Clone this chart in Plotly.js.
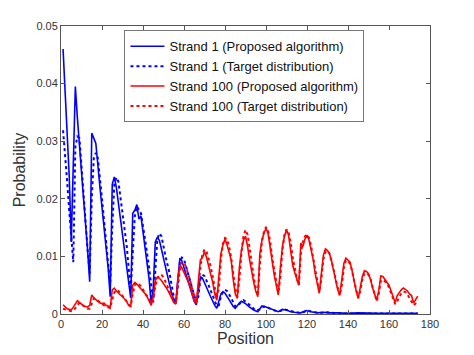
<!DOCTYPE html>
<html>
<head>
<meta charset="utf-8">
<script src="https://cdn.plot.ly/plotly-3.0.1.min.js"></script>
<style>html,body{margin:0;padding:0;background:#fff;}#chart{width:474px;height:355px;}</style>
</head>
<body>
<div id="chart"></div>
<script>
// Strand 1, proposed algorithm (solid blue)
var s1PropX = [1,2,3,4,5,6,7,8,9,11,13,14,15,16,17,19,21,23,24,25,26,27,29,31,33,34,35,36,37,38,39,41,43,44,45,46,47,48,50,52,54,55,56,57,58,59,61,63,65,66,67,68,69,71,73,75,76,77,78,79,80,82,84,85,86,87,88,90,92,94,96,97,98,100,102,104,106,107,108,110,112,114,117,119,120,122,125,128,131,135,140,145,150,155,160,165,170,174];
var s1PropY = [0.046,0.039,0.031,0.024,0.0125,0.026,0.0395,0.034,0.029,0.020,0.011,0.0056,0.0314,0.0305,0.0296,0.022,0.015,0.008,0.003,0.0225,0.0238,0.022,0.0165,0.011,0.006,0.0028,0.0175,0.018,0.019,0.0165,0.017,0.0115,0.006,0.0017,0.0045,0.0125,0.0133,0.0128,0.0095,0.0065,0.0035,0.0025,0.0018,0.006,0.0097,0.0092,0.0068,0.0045,0.0022,0.0016,0.004,0.0065,0.0062,0.0045,0.003,0.0015,0.001,0.0022,0.0035,0.0039,0.0036,0.0025,0.0013,0.001,0.0015,0.0019,0.0022,0.0018,0.0012,0.0007,0.0004,0.001,0.0014,0.0012,0.0009,0.0006,0.0004,0.0006,0.0008,0.0007,0.0004,0.0003,0.0002,0.0005,0.0006,0.0004,0.0002,0.0003,0.0002,0.0002,0.0001,0.0002,0.0001,0.0001,0.0001,0.0001,0.0001,0.0001];

// Strand 1, target distribution (dotted blue)
var s1TargX = [1,2,3,4,5,6,7,8,9,10,12,13,14,15,16,17,18,20,22,24,25,26,27,28,30,32,34,35,36,37,38,39,41,43,45,46,47,48,49,51,53,55,56,57,58,59,60,62,64,66,67,68,69,70,72,74,76,77,78,79,80,81,83,85,87,88,89,91,93,95,97,99,101,103,105,107,109,111,113,116,119,121,124,127,130,135,140,145,150,155,160,165,170,174];
var s1TargY = [0.0319,0.028,0.023,0.018,0.013,0.009,0.029,0.0308,0.0305,0.025,0.016,0.011,0.007,0.020,0.027,0.028,0.027,0.020,0.013,0.005,0.015,0.0225,0.0237,0.023,0.0175,0.012,0.004,0.011,0.017,0.0187,0.018,0.0175,0.013,0.008,0.002,0.007,0.013,0.014,0.0135,0.010,0.007,0.003,0.002,0.005,0.009,0.0098,0.0095,0.007,0.0045,0.002,0.003,0.006,0.0068,0.0066,0.005,0.0032,0.0014,0.0015,0.003,0.0038,0.0042,0.004,0.0028,0.0013,0.0017,0.0022,0.0024,0.0019,0.0012,0.0006,0.0008,0.0013,0.0011,0.0008,0.0005,0.0005,0.0008,0.0006,0.0004,0.0002,0.0004,0.0005,0.0003,0.0002,0.0003,0.0001,0.0001,0.0001,0.0001,0.0001,0.0001,0.0001,0.0001,0.0001];

// Strand 100, proposed algorithm (solid red), positions 1..174
var s100PropY = [0.0016,0.0012,0.0009,0.0008,0.0007,0.0012,0.0018,0.0023,0.002,0.0017,
0.0014,0.0013,0.0012,0.0015,0.0033,0.0028,0.0025,0.0022,0.0019,0.0018,
0.0019,0.0015,0.0013,0.0012,0.0042,0.0045,0.004,0.0036,0.0033,0.003,
0.0026,0.0022,0.0015,0.0013,0.005,0.0055,0.0052,0.0048,0.0044,0.004,
0.0035,0.003,0.0022,0.0015,0.003,0.0058,0.0064,0.0062,0.0058,0.0053,
0.0048,0.0042,0.0035,0.0028,0.002,0.0017,0.006,0.0085,0.008,0.0072,
0.0065,0.0056,0.0048,0.0035,0.0022,0.0019,0.006,0.0094,0.0098,0.0108,
0.0098,0.0085,0.0072,0.0055,0.0035,0.0024,0.0065,0.0105,0.012,0.013,
0.012,0.0105,0.0094,0.006,0.0035,0.0027,0.008,0.0111,0.0128,0.0135,
0.0118,0.0094,0.0073,0.0055,0.004,0.003,0.0105,0.0128,0.014,0.0149,
0.014,0.0115,0.0085,0.0068,0.005,0.0033,0.008,0.0117,0.0135,0.0146,
0.0137,0.0115,0.0085,0.0072,0.006,0.005,0.0123,0.0117,0.013,0.0137,
0.0128,0.0114,0.0095,0.007,0.0052,0.0036,0.007,0.0102,0.0113,0.011,
0.0104,0.0092,0.0075,0.0058,0.0042,0.0033,0.006,0.0088,0.0097,0.0094,
0.009,0.0075,0.0055,0.004,0.0027,0.0045,0.0065,0.0075,0.0074,0.007,
0.006,0.0045,0.0033,0.0024,0.004,0.0066,0.0065,0.006,0.0057,0.005,
0.004,0.003,0.002,0.0032,0.0038,0.0042,0.0045,0.0043,0.004,0.0035,
0.0032,0.0019,0.0025,0.0031];

// Strand 100, target distribution (dotted red), positions 1..174
var s100TargY = [0.0009,0.0008,0.0006,0.0005,0.0005,0.0006,0.001,0.0016,0.0019,0.0017,
0.0014,0.0011,0.0009,0.0009,0.002,0.0027,0.0026,0.0023,0.002,0.0017,
0.0015,0.0013,0.0011,0.001,0.0025,0.0037,0.0042,0.004,0.0036,0.0032,
0.0027,0.0022,0.0017,0.0013,0.0035,0.005,0.0054,0.0052,0.0048,0.0043,
0.0037,0.0031,0.0025,0.0019,0.0025,0.0048,0.0062,0.0067,0.0068,0.0064,
0.0056,0.0047,0.0038,0.003,0.0022,0.0018,0.0045,0.0078,0.009,0.0089,
0.0082,0.0071,0.0058,0.0043,0.003,0.0021,0.0042,0.0082,0.0104,0.0112,
0.0108,0.0097,0.0083,0.0065,0.0045,0.0027,0.0045,0.0095,0.0122,0.0132,
0.013,0.0117,0.0098,0.0072,0.0045,0.003,0.006,0.0105,0.0135,0.0146,
0.0138,0.0115,0.0088,0.0065,0.0045,0.0032,0.0085,0.0125,0.0143,0.0151,
0.0145,0.0127,0.0098,0.0075,0.0055,0.0036,0.0065,0.011,0.0138,0.0147,
0.0142,0.0125,0.0098,0.0078,0.0063,0.005,0.0105,0.0125,0.0135,0.0138,
0.0132,0.0118,0.0098,0.0075,0.0055,0.0038,0.006,0.0095,0.0108,0.011,
0.0105,0.0093,0.0077,0.006,0.0044,0.0032,0.005,0.0081,0.0093,0.0092,
0.0087,0.0075,0.0057,0.0041,0.0028,0.004,0.006,0.007,0.0071,0.0068,
0.006,0.0047,0.0033,0.0022,0.0035,0.0057,0.006,0.0057,0.0053,0.0046,
0.0037,0.0026,0.0017,0.0022,0.003,0.0036,0.0039,0.0038,0.0034,0.0028,
0.0021,0.0015,0.0018,0.0023];

var s100X = [];
for (var i = 1; i <= s100PropY.length; i++) s100X.push(i);

var seriesNames = ['Strand 1 (Proposed algorithm)','Strand 1 (Target distribution)','Strand 100 (Proposed algorithm)','Strand 100 (Target distribution)'];
var xTicks = [0,20,40,60,80,100,120,140,160,180];
var yTicks = [0,0.01,0.02,0.03,0.04,0.05];
var yTickText = ['0','0.01','0.02','0.03','0.04','0.05'];

var traces = [
  {x:s1PropX, y:s1PropY, name:seriesNames[0], mode:'lines', line:{color:'#0000ff', width:1.6}},
  {x:s1TargX, y:s1TargY, name:seriesNames[1], mode:'lines', line:{color:'#0000ff', width:2, dash:'dot'}},
  {x:s100X, y:s100PropY, name:seriesNames[2], mode:'lines', line:{color:'#ff0000', width:1.6}},
  {x:s100X, y:s100TargY, name:seriesNames[3], mode:'lines', line:{color:'#ff0000', width:2, dash:'dot'}}
];

var axisCommon = {
  showline:true, mirror:'ticks', linecolor:'#555', linewidth:1,
  ticks:'inside', ticklen:4, tickcolor:'#555', showgrid:false, zeroline:false,
  tickfont:{family:'Liberation Sans, Arial, sans-serif', size:11, color:'#333'}
};

var layout = {
  width:474, height:355,
  margin:{l:61, r:44, t:26, b:41},
  paper_bgcolor:'#fff', plot_bgcolor:'#fff',
  showlegend:true,
  legend:{x:0.172, y:0.985, xanchor:'left', yanchor:'top', bgcolor:'#fff', bordercolor:'#777', borderwidth:1,
    font:{family:'Liberation Sans, Arial, sans-serif', size:13, color:'#111'}, tracegroupgap:0, itemwidth:34},
  xaxis:Object.assign({}, axisCommon, {range:[0,180], tickvals:xTicks,
    title:{text:'Position', font:{family:'Liberation Sans, Arial, sans-serif', size:16, color:'#333'}, standoff:3}}),
  yaxis:Object.assign({}, axisCommon, {range:[0,0.05], tickvals:yTicks, ticktext:yTickText,
    title:{text:'Probability', font:{family:'Liberation Sans, Arial, sans-serif', size:16, color:'#333'}, standoff:6}})
};

Plotly.newPlot('chart', traces, layout, {displayModeBar:false, staticPlot:true});
</script>
</body>
</html>
